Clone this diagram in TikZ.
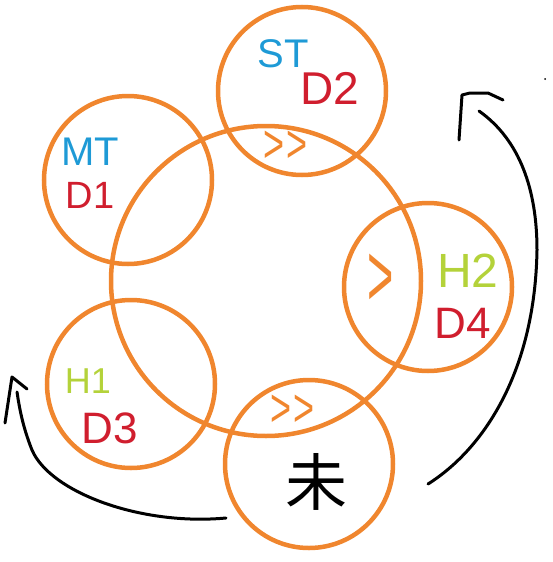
\documentclass[tikz,border=0pt]{standalone}
\usepackage{fontspec}
\setmainfont{Liberation Sans}
\newfontfamily\cjk{Noto Sans CJK SC}
\definecolor{ring}{RGB}{240,134,46}
\definecolor{bluet}{RGB}{30,154,214}
\definecolor{redt}{RGB}{208,30,46}
\definecolor{greent}{RGB}{180,210,58}
\newcommand{\twogt}{\scalebox{1}[1.5]{>\kern2pt>}}
\begin{document}
\begin{tikzpicture}[x=1pt, y=-1pt, line width=4.5pt,
                    main/.style = {draw=ring, circle, minimum size=168pt, inner sep=0pt},
                    lab/.style = {inner sep=0pt, font=\fontsize{#1}{#1}\selectfont},
                    hand/.style = {draw=black, line width=3pt, line cap=round, line join=round}]
                    \useasboundingbox (0,0) rectangle (553,562);
                    \node[main, minimum size=310pt] (big) at (266,281) {};
                    \node[main] (st) at (302,91) {};
                    \node[main] (mt) at (128,180) {};
                    \node[main] (h2) at (428,287) {};
                    \node[main] (h1) at (131,384) {};
                    \node[main] (wei) at (309,464) {};
                    % labels
                    \node[lab=40, bluet] (stl) at (283,54) {ST};
                    \node[lab=46, redt] (d2) at (330,88) {D2};
                    \node[lab=40, bluet] (mtl) at (90,152) {MT};
                    \node[lab=38, redt] (d1) at (90,195) {D1};
                    \node[lab=48, greent] (h2l) at (468,271) {H2};
                    \node[lab=44, redt] (d4) at (463,323) {D4};
                    \node[lab=36, greent] (h1l) at (88,381) {H1};
                    \node[lab=44, redt] (d3) at (110,428) {D3};
                    \node[lab=50, ring] (gt) at (381,280) {\scalebox{0.9}[1.8]{>}};
                    \node[lab=36, ring] (gtt) at (286,147) {\twogt};
                    \node[lab=36, ring] (gtb) at (293,411) {\twogt};
                    \node[lab=62] (weil) at (316,482) {\cjk 未};
                    % arrows
                    \coordinate (rs) at (428,484);
                    \coordinate (rm) at (537,250);
                    \coordinate (re) at (479,111);
                    \coordinate (ls) at (226,518);
                    \coordinate (lm) at (32,450);
                    \coordinate (le) at (17,392);
                    \draw[hand] (rs) .. controls (485,448) and (535,370) .. (rm)
                                     .. controls (537,190) and (520,140) .. (re);
                    \draw[hand] (459,140) -- (462,95) -- (470,93) -- (488,93) -- (503,100);
                    \draw[hand] (ls) .. controls (140,526) and (50,492) .. (lm)
                                     .. controls (22,425) and (19,405) .. (le);
                    \draw[hand] (5,423) -- (12,377) -- (27,389);
                    \fill (545,79) circle (1pt);
                \end{tikzpicture}
\end{document}
